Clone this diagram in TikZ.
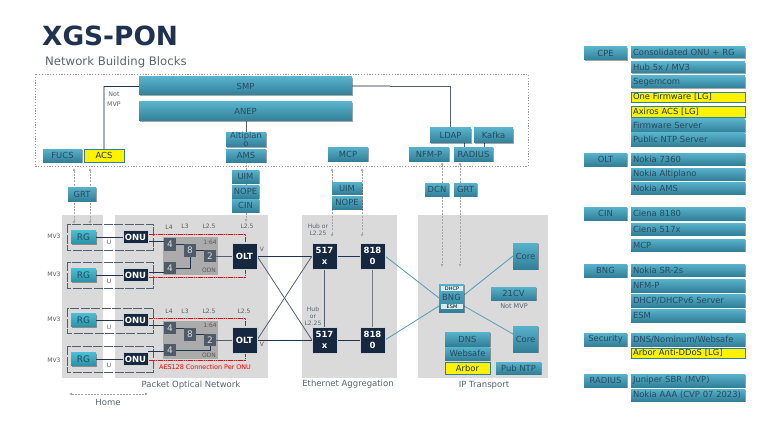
\documentclass[tikz,border=0pt]{standalone}
\usepackage{fontspec}
\setmainfont{DejaVu Sans}
\usetikzlibrary{shadows,backgrounds,arrows.meta}
\definecolor{navy}{HTML}{16283F}
\definecolor{ink}{HTML}{264A60}
\definecolor{titleink}{HTML}{1F3350}
\definecolor{region}{HTML}{DADADA}
\definecolor{odn}{HTML}{ABABAB}
\definecolor{slate}{HTML}{505B69}
\definecolor{tealtop}{HTML}{58B2CB}
\definecolor{tealbot}{HTML}{327F98}
\definecolor{wire}{HTML}{1E3550}
\definecolor{greywire}{HTML}{A9B0BA}
\definecolor{midwire}{HTML}{55606F}
\definecolor{tealwire}{HTML}{4F9DB4}
\definecolor{capt}{HTML}{5A6470}
\tikzset{
  base/.style={inner sep=0pt,outer sep=0pt,align=center,font=\fontsize{8.4}{9.4}\selectfont},
  shadowed/.style={drop shadow={shadow xshift=0.6pt,shadow yshift=-1.2pt,fill=black,opacity=.35}},
  tealbox/.style={base,text=ink,top color=tealtop,bottom color=tealbot,shadowed},
  listbox/.style={tealbox,text width=110pt,align=left},
  rgbox/.style={base,text=ink,top color=tealtop!85!cyan,bottom color=tealbot!85!cyan,shadowed,font=\fontsize{9}{10}\selectfont},
  yellowbox/.style={base,text=ink!70!black,fill=yellow,draw=tealbot,line width=.7pt,shadowed},
  ylistbox/.style={yellowbox,text width=110pt,align=left},
  navybox/.style={base,text=white,fill=navy,draw=white!80!navy,line width=.3pt,font=\fontsize{8.5}{11}\selectfont\bfseries},
  greybox/.style={base,text=region,fill=slate,font=\fontsize{9}{10}\selectfont},
  regionbox/.style={fill=region,draw=none},
  odnbox/.style={fill=odn,draw=none},
  homebox/.style={draw=navy!75!white,dash pattern=on 9pt off 1.5pt,line width=.8pt},
  framebox/.style={draw=black!40,dash pattern=on 1.2pt off 1.6pt,line width=.6pt},
  tiny/.style={inner sep=0pt,text=capt,font=\fontsize{6}{7}\selectfont,align=center},
  caption/.style={inner sep=0pt,text=capt,font=\fontsize{8.5}{10}\selectfont},
  wireline/.style={draw=wire,line width=.8pt},
  grey thick/.style={draw=greywire,line width=1.3pt},
  midline/.style={draw=midwire,line width=.8pt},
  tealline/.style={draw=tealwire,line width=.8pt},
  dasharrow/.style={draw=black!35,dash pattern=on 2pt off 1.2pt,line width=.6pt,-{Latex[length=3pt,width=3pt]}},
  dasharrows/.style={dasharrow,{Latex[length=3pt,width=3pt]}-{Latex[length=3pt,width=3pt]}},
  redline/.style={draw=red,line width=.9pt,dash pattern=on 5pt off 1pt on 1pt off 1pt on 1pt off 1pt},
}
\newcommand{\bx}[7][]{\node[#2,#1,minimum width={((#5)-(#3))*1pt},minimum height={((#6)-(#4))*1pt}] (#7) at ({((#3)+(#5))/2},{((#4)+(#6))/2})}
\newcommand{\fsl}{/}
\begin{document}
\begin{tikzpicture}[x=1pt,y=-1pt]
\useasboundingbox (0,0) rectangle (768,433);
% regions
\begin{scope}[on background layer]
\fill[regionbox] (62,215) rectangle (103,378);
\fill[regionbox] (115,215) rectangle (268,378);
\fill[regionbox] (302,215) rectangle (397,378);
\fill[regionbox] (418,215) rectangle (548,378);
\fill[odnbox] (163,237) rectangle (218,275);
\fill[odnbox] (163,321) rectangle (218,359);
\draw[framebox] (35,74) rectangle (528,166);
\draw[homebox] (67,224) rectangle (153,250);
\draw[homebox] (67,262) rectangle (153,288);
\draw[homebox] (67,308) rectangle (153,333);
\draw[homebox] (67,346) rectangle (153,372);
\end{scope}
% title
\node[anchor=west,inner sep=0pt,text=titleink,font=\fontsize{26.4}{28}\selectfont\bfseries] (title) at (42,36) {XGS-PON};
\node[anchor=west,inner sep=0pt,text=capt,font=\fontsize{11.7}{13}\selectfont] (subtitle) at (45,62) {Network Building Blocks};
% management
\bx{tealbox}{139}{77}{352}{95}{smp} {SMP};
\bx{tealbox}{139}{102}{352}{121}{anep} {ANEP};
\bx{tealbox}{43}{149}{82}{162}{fucs} {FUCS};
\bx{yellowbox}{84}{149}{124}{162}{acs} {ACS};
\bx{tealbox}{226}{133}{266}{146}{alti} {Altiplan\\[-1pt]o};
\bx{tealbox}{226}{149}{266}{162}{ams} {AMS};
\bx{tealbox}{232}{170}{259}{183}{uima} {UIM};
\bx{tealbox}{232}{185}{259}{198}{nopea} {NOPE};
\bx{tealbox}{232}{199}{259}{212}{cina} {CIN};
\bx{tealbox}{68}{187}{96}{201}{grta} {GRT};
\bx{tealbox}{328}{147}{368}{161}{mcp} {MCP};
\bx{tealbox}{332}{182}{362}{194}{uimb} {UIM};
\bx{tealbox}{332}{196}{362}{209}{nopeb} {NOPE};
\bx{tealbox}{430}{128}{471}{143}{ldap} {LDAP};
\bx{tealbox}{474}{128}{513}{143}{kafka} {Kafka};
\bx{tealbox}{409}{147}{449}{161}{nfmp} {NFM-P};
\bx{tealbox}{454}{147}{493}{161}{radius} {RADIUS};
\bx{tealbox}{425}{183}{449}{196}{dcn} {DCN};
\bx{tealbox}{454}{183}{477}{196}{grtb} {GRT};
\node[tiny,text=capt,font=\fontsize{6.3}{9.5}\selectfont] (notmvp) at (114,99) {Not\\MVP};
% access
\foreach \n/\c in {1/237,2/275,3/320,4/359}{
  \bx{rgbox}{71}{\c-6.5}{96}{\c+6.5}{rg\n} {RG};
  \bx{navybox}{123}{\c-6.5}{148}{\c+6.5}{onu\n} {ONU};
}
\bx{greybox}{164}{238}{176}{251}{fa} {4};
\bx{greybox}{164}{262}{176}{274}{fb} {4};
\bx{greybox}{184}{244}{196}{257}{ea} {8};
\bx{greybox}{204}{250}{216}{262}{ta} {2};
\bx{greybox}{164}{322}{176}{334}{fc} {4};
\bx{greybox}{164}{344}{176}{356}{fd} {4};
\bx{greybox}{184}{328}{196}{341}{eb} {8};
\bx{greybox}{204}{334}{216}{346}{tb} {2};
\bx{navybox}{232}{243}{257}{269}{olta} {OLT};
\bx{navybox}{232}{327}{257}{353}{oltb} {OLT};
% aggregation
\bx{navybox}{312}{243}{337}{269}{sa} {517\\x};
\bx{navybox}{312}{327}{337}{353}{sb} {517\\x};
\bx{navybox}{360}{243}{385}{269}{ea8} {818\\0};
\bx{navybox}{360}{327}{385}{353}{eb8} {818\\0};
% transport
\bx{tealbox}{439}{284}{464}{312}{bng} {};
\bx[fill=white!75!tealtop,font=\fontsize{5}{6}\selectfont]{base}{441}{286}{463}{291}{dhcp} {DHCP};
\node[base,text=ink] (bngt) at (451.5,297) {BNG};
\bx[fill=white!75!tealtop,font=\fontsize{5}{6}\selectfont]{base}{441}{304}{463}{309}{esm} {ESM};
\bx{tealbox}{513}{243}{538}{269}{corea} {Core};
\bx{tealbox}{513}{326}{538}{352}{coreb} {Core};
\bx{tealbox}{491}{287}{536}{300}{cv} {21CV};
\bx{tealbox}{445}{332}{490}{346}{dns} {DNS};
\bx{tealbox}{445}{347}{490}{360}{websafe} {Websafe};
\bx{yellowbox}{445}{362}{490}{374}{arbor} {Arbor};
\bx{tealbox}{496}{362}{541}{374}{pubntp} {Pub NTP};
\node[tiny,font=\fontsize{6.5}{8}\selectfont] (cvn) at (514,306) {Not MVP};
% small labels
\foreach \n/\x/\y/\t in {a/169/227/L4,b/185/226/L3,c/209/226/L2.5,d/247/226/L2.5,e/169/311/L4,f/185/311/L3,g/209/311/L2.5,h/244/311/L2.5,i/210/242/1:64,j/209/270/ODN,k/210/325/1:64,l/209/355/ODN,m/262/249/V,n/262/344/V,o/109/242/U,p/109/281/U,q/109/327/U,r/109/365/U,s/54/236/MV3,t/54/274/MV3,u/54/319/MV3,v/54/360/MV3}
  \node[tiny,text=black!65] (lab\n) at (\x,\y) {\t};
\node[tiny] (huba) at (318,230) {Hub or\\L2.25};
\node[tiny] (hubb) at (313,316) {Hub\\or\\L2.25};
\node[inner sep=0pt,text=red,font=\fontsize{6.4}{7}\selectfont] (aes) at (205,367) {AES128 Connection Per ONU};
\node[caption] (pon) at (191,385) {Packet Optical Network};
\node[caption] (eth) at (348,384) {Ethernet Aggregation};
\node[caption] (ipt) at (484,385) {IP Transport};
\node[caption] (home) at (108,402) {Home};
% free ends
\coordinate (ha) at (69,394);
\coordinate (hb) at (148,394);
\coordinate (ga) at (74,224);
\coordinate (gb) at (90,224);
\coordinate (gc) at (74,168);
\coordinate (gd) at (90,168);
\coordinate (ma) at (332,237);
\coordinate (mb) at (362,237);
\coordinate (mc) at (332,168);
\coordinate (md) at (362,168);
\coordinate (na) at (442,267);
\coordinate (nb) at (460,267);
\coordinate (nc) at (442,162);
\coordinate (nd) at (460,162);
\coordinate (cend) at (246,222);
\coordinate (acscorner) at (104,86);
\coordinate (ldapcorner) at (450,86);
\coordinate (ra) at (245,234);
\coordinate (rb) at (245,277);
\coordinate (rc) at (245,318);
\coordinate (rd) at (245,360);
% connectors
\begin{scope}[on background layer]
\draw[dasharrows] (gc) -- (ga);
\draw[dasharrows] (gd) -- (gb);
\draw[dasharrows] (mc) -- (ma);
\draw[dasharrows] (md) -- (mb);
\draw[dasharrows] (nc) -- (na);
\draw[dasharrows] (nd) -- (nb);
\draw[dasharrow] (ams.south) -- (cend);
\draw[dasharrows] (ha) -- (hb);
\draw[grey thick] (acs.north -| acscorner) -- (acscorner);
\draw[wireline] (acscorner) -- (smp.west |- acscorner);
\draw[grey thick] (smp.east |- acscorner) -- (390,86);
\draw[midline] (390,86) -- (ldapcorner) -- (ldap.north -| ldapcorner);
\draw[midline] (anep.south -| alti.north) -- (alti.north);
\draw[wireline,draw=midwire] (ldap.south -| 464,0) -- (radius.north -| 464,0);
\draw[wireline,draw=midwire] (kafka.south -| 484,0) -- (radius.north -| 484,0);
\foreach \n in {1,2,3,4}{\draw[wireline] (rg\n.east) -- (onu\n.west);}
\draw[wireline] ([yshift=-4pt]onu1.east) -- ([yshift=-4pt]onu1.east -| fa.west);
\draw[wireline] ([yshift=3pt]onu2.east) -- ([yshift=3pt]onu2.east -| fb.west);
\draw[wireline] ([yshift=-5pt]onu3.east) -- ([yshift=-5pt]onu3.east -| fc.west);
\draw[wireline] ([yshift=8pt]onu4.east) -- ([yshift=8pt]onu4.east -| fd.west);
\draw[wireline] (fa.east) -- (fa.east -| ea.west);
\draw[wireline] (fb.east) -| (ea.south);
\draw[wireline] (ea.east) -- (ea.east -| ta.west);
\draw[midline] (ta.east) -- (ta.east -| olta.west);
\draw[wireline] (fc.east) -- (fc.east -| eb.west);
\draw[wireline] (fd.east) -| (tb.south);
\draw[wireline] (eb.east) -- (eb.east -| tb.west);
\draw[midline] (tb.east) -- (tb.east -| oltb.west);
\draw[wireline] (olta.east) -- (sa.west);
\draw[wireline] (oltb.east) -- (sb.west);
\draw[midline] (olta.east) -- (sb.west);
\draw[midline] (oltb.east) -- (sa.west);
\draw[wireline] (sa.east) -- (ea8.west);
\draw[wireline] (sb.east) -- (eb8.west);
\draw[midline,line width=1.3pt] (sa.south) -- (sb.north);
\draw[greywire!70!black,line width=.8pt] (ea8.south) -- (eb8.north);
\draw[tealline] (ea8.east) -- (bng.west);
\draw[tealline] (eb8.east) -- ([yshift=-8pt]bng.west);
\draw[tealline] ([yshift=3pt]bng.east) -- (corea.west);
\draw[tealline] ([yshift=-8pt]bng.east) -- ([yshift=5pt]coreb.west);
\draw[redline] (onu1.east |- ra) -- (ra) -- (ra |- olta.north);
\draw[redline] (onu2.east |- rb) -- (rb) -- (rb |- olta.south);
\draw[redline] (onu3.east |- rc) -- (rc) -- (rc |- oltb.north);
\draw[redline] (onu4.east |- rd) -- (rd) -- (rd |- oltb.south);
\end{scope}
% legend
\foreach \n/\a/\b/\t in {cpe/47/60/CPE,olt/153/166/OLT,cin/207/220/CIN,bngh/264/277/BNG,sec/333/346/Security,rad/374/387/RADIUS}
  \bx{tealbox}{584}{\a}{627}{\b}{h\n} {\t};
\foreach \n/\a/\b/\t in {a/47/58/Consolidated ONU + RG,b/62/73/Hub 5x \fsl\ MV3,c/76/88/Segemcom,f/119/132/Firmware Server,g/133/146/Public NTP Server,h/153/165/Nokia 7360,i/168/180/Nokia Altiplano,j/182/194/Nokia AMS,k/207/220/Ciena 8180,l/223/235/Ciena 517x,m/239/251/MCP,n/264/276/Nokia SR-2s,o/279/292/NFM-P,p/294/307/DHCP\fsl DHCPv6 Server,q/309/322/ESM,r/333/346/DNS\fsl Nominum\fsl Websafe,s/374/387/Juniper SBR (MVP),t/389/401/Nokia AAA (CVP 07 2023)}
  \bx{listbox}{631}{\a}{745}{\b}{l\n} {\t};
\bx{ylistbox}{631}{92}{745}{102}{ld} {One Firmware [LG]};
\bx{ylistbox}{631}{106}{745}{117}{le} {Axiros ACS [LG]};
\bx{ylistbox}{631}{348}{745}{358}{lu} {Arbor Anti-DDoS [LG]};
\end{tikzpicture}
\end{document}
